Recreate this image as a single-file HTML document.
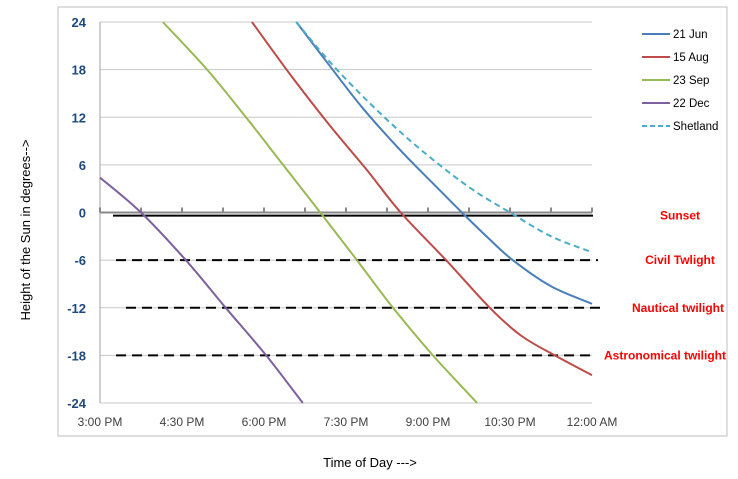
<!DOCTYPE html>
<html><head><meta charset="utf-8"><style>
body{margin:0;background:#fff;font-family:"Liberation Sans",sans-serif}
svg text{font-family:"Liberation Sans",sans-serif}
</style></head><body>
<svg id="c" width="738" height="474">
<rect x="58" y="7" width="669" height="429" fill="#fff" stroke="#bfbfbf"/>
<g id="grid"></g><g id="series"></g>
<text x="30" y="230" transform="rotate(-90 30 230)" text-anchor="middle" font-size="13" fill="#000">Height of the Sun in degrees--&gt;</text>
<text x="370" y="467" text-anchor="middle" font-size="13" fill="#000">Time of Day ---&gt;</text>
</svg>
<script>
const yTicks=[24,18,12,6,0,-6,-12,-18,-24];
const xTickLabels=["3:00 PM","4:30 PM","6:00 PM","7:30 PM","9:00 PM","10:30 PM","12:00 AM"];
const xTickHours=[15,16.5,18,19.5,21,22.5,24];
const seriesNames=["21 Jun","15 Aug","23 Sep","22 Dec","Shetland"];
const seriesColors=["#4a7ebb","#be4b48","#98b954","#7d60a0","#4bacc6"];
const junH=[18.59,19.2,19.8,20.5,21.1,21.62,22.1,22.55,23.25,24];
const junV=[24,18.5,13.2,7.8,3.6,0,-3.2,-6,-9.3,-11.5];
const augH=[17.78,18.5,19.2,19.9,20.5,21.33,22.13,22.7,23.32,24];
const augV=[24,17.2,11,5.2,0,-6,-12,-15.5,-18,-20.5];
const sepH=[16.15,16.96,17.67,18.35,19.03,19.7,20.36,21.09,21.9];
const sepV=[24,18,12,6,0,-6,-12,-18,-24];
const decH=[15,15.75,16.57,17.3,18.04,18.71];
const decV=[4.4,0,-6,-12,-18,-24];
const shetH=[18.59,19.2,19.9,20.6,21.3,21.9,22.5,23.25,24];
const shetV=[24,19,14,9.5,5.5,2.5,0,-3,-5];
const thresholdNames=["Sunset","Civil Twlight","Nautical twilight","Astronomical twilight"];
const thresholdValues=[-0.4,-6,-12,-18];
const NS="http://www.w3.org/2000/svg";
const X=h=>100+(h-15)*(492/9), Y=v=>212.5-v*(381/48);
const g=document.getElementById('grid'), s=document.getElementById('series');
function mk(tag,attrs,parent,txt){const e=document.createElementNS(NS,tag);for(const k in attrs)e.setAttribute(k,attrs[k]);if(txt!==undefined)e.textContent=txt;parent.appendChild(e);return e;}
function smooth(p){let d='M'+p[0][0].toFixed(1)+','+p[0][1].toFixed(1);
 for(let i=0;i<p.length-1;i++){const p0=p[i-1]||p[i],p1=p[i],p2=p[i+1],p3=p[i+2]||p2;
  const c1=[p1[0]+(p2[0]-p0[0])/6,p1[1]+(p2[1]-p0[1])/6],c2=[p2[0]-(p3[0]-p1[0])/6,p2[1]-(p3[1]-p1[1])/6];
  d+=' C'+c1.map(n=>n.toFixed(1))+' '+c2.map(n=>n.toFixed(1))+' '+p2.map(n=>n.toFixed(1));}
 return d;}
yTicks.forEach(v=>{
 if(v!==0){const l=mk('line',{x1:100,x2:592,y1:Y(v),y2:Y(v),stroke:'#c8c8c8'},g);
 
 }
 const t=mk('text',{x:86,y:Y(v)+5,'text-anchor':'end','font-size':13,'font-weight':'bold',fill:'#1f497d'},g,String(v));
 
 
});
const ya=mk('line',{x1:100,x2:100,y1:Y(24),y2:Y(-24),stroke:'#a0a0a0'},g);


const xa=mk('line',{x1:100,x2:592,y1:Y(0),y2:Y(0),stroke:'#888','stroke-width':2},g);


for(let h=15;h<=24.001;h+=0.75){const tk=mk('line',{x1:X(h),x2:X(h),y1:Y(0),y2:Y(0)-5,stroke:'#888','stroke-width':2},g);
 
 }
xTickLabels.forEach((lb,i)=>{const t=mk('text',{x:X(xTickHours[i]),y:426,'text-anchor':'middle','font-size':12,fill:'#404040'},g,lb);
 
 });
const thrX1=[113,116,126,116], thrX2=[593,598,600,592], labX=[680,680,678,665];
thresholdValues.forEach((v,i)=>{
 const l=mk('line',{x1:thrX1[i],x2:thrX2[i],y1:Y(v),y2:Y(v),stroke:'#000','stroke-width':2,'stroke-dasharray':i?'10,6':'none'},s);
 
 
 const t=mk('text',{x:labX[i],y:Y(v)+4,'text-anchor':'middle','font-size':12,'font-weight':'bold',fill:'#ff0000'},s,thresholdNames[i]);
 
 
});
const data=[[junH,junV],[augH,augV],[sepH,sepV],[decH,decV],[shetH,shetV]];
data.forEach((d,i)=>{
 const pts=d[0].map((h,j)=>[X(h),Y(d[1][j])]);
 const p=mk('path',{d:smooth(pts),fill:'none',stroke:seriesColors[i],'stroke-width':2,'stroke-dasharray':i===4?'6,4':'none'},s);
 
 
 const ly=34+i*23;
 const ll=mk('line',{x1:642,x2:670,y1:ly,y2:ly,stroke:seriesColors[i],'stroke-width':2,'stroke-dasharray':i===4?'5,3':'none'},s);
 
 
 const lt=mk('text',{x:673,y:ly+4,'font-size':11.5,fill:'#000'},s,seriesNames[i]);
 
 
});
</script>
</body></html>
